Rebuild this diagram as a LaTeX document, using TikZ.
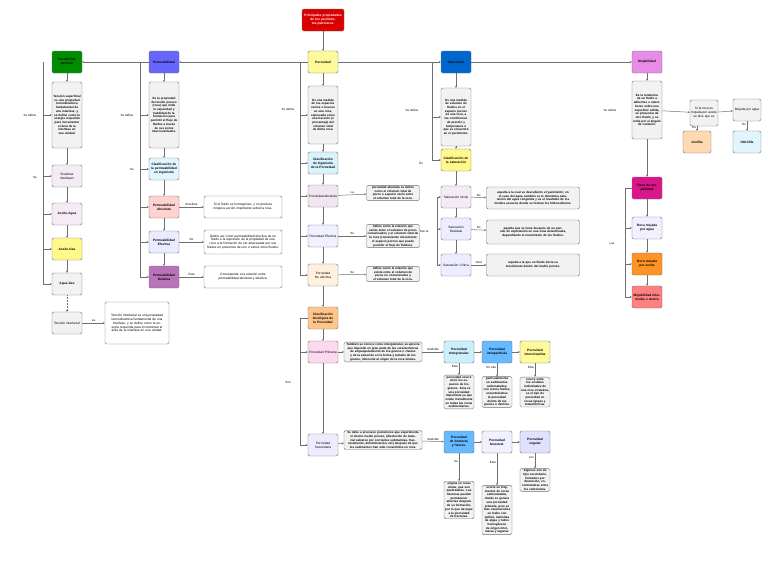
\documentclass[tikz,border=0pt]{standalone}
\usepackage{fontspec}
\setmainfont{Liberation Sans}
\usetikzlibrary{positioning,arrows.meta,calc}
\definecolor{edgegray}{HTML}{707070}
\begin{document}
\begin{tikzpicture}[x=1pt,y=-1pt,
  box/.style={draw=edgegray, rounded corners=1.5pt, align=center, inner sep=1pt,
    font=\fontsize{3.2}{3.9}\selectfont, fill=white},
  txt/.style={box, fill=gray!10, font=\fontsize{3}{3.7}\selectfont\bfseries},
  head/.style={box, font=\fontsize{3.2}{3.9}\selectfont\bfseries, minimum height=22pt},
  w/.style={text width=#1pt},
  lbl/.style={font=\fontsize{3}{3.6}\selectfont, inner sep=1pt},
  arr/.style={draw=edgegray, line width=0.5pt, -{Stealth[length=2pt,width=2pt]}},
  ln/.style={draw=edgegray, line width=0.5pt},
]
\useasboundingbox (0,0) rectangle (768,568);
% title and main properties
\node[head, w=40, fill=red!85!black, text=white] (title) at (323,20) {Principales propiedades de los yacimientos petroleros.};
\node[head, w=28, fill=green!55!black] (tens) at (67,62) {Tensión Superficial};
\node[head, w=28, fill=blue!60] (perm) at (164,62) {Permeabilidad};
\node[head, w=28, fill=yellow!40] (poro) at (323,62) {Porosidad};
\node[head, w=28, fill=blue!50!cyan!80!black] (satu) at (456,62) {Saturación};
\node[head, w=28, fill=violet!40!magenta!45] (moja) at (647,62) {Mojabilidad};
\draw[arr] (title) -- (poro);
\draw[arr] (poro) -- (perm);
\draw[arr] (perm) -- (tens);
\draw[arr] (poro) -- (satu);
\draw[arr] (satu) -- (moja);

% tension superficial
\node[txt, w=28, minimum height=66pt] (tdef) at (67,115) {Tensión superficial es una propiedad termodinámica fundamental de una interfase, y se define como la energía requerida para incrementar el área de la interfase en una unidad.};
\node[box, w=28, fill=violet!8, minimum height=22pt] (tsis) at (67,176) {Sistemas interfases};
\node[box, w=28, fill=violet!8, minimum height=22pt, font=\fontsize{3.2}{3.9}\selectfont\bfseries] (tag) at (67,214) {Aceite-Agua};
\node[box, w=28, fill=yellow!45, minimum height=22pt, font=\fontsize{3.2}{3.9}\selectfont\bfseries] (tgas) at (67,249) {Aceite-Gas};
\node[box, w=28, fill=gray!10, minimum height=22pt, font=\fontsize{3.2}{3.9}\selectfont\bfseries] (tagu) at (67,284) {Agua-Gas};
\node[box, w=28, fill=gray!10, minimum height=22pt] (tint) at (67,323) {Tensión interfacial};
\node[box, w=62, minimum height=42pt] (tintd) at (137,323) {Tensión interfacial es una propiedad termodinámica fundamental de una interfase, y se define como la energía requerida para incrementar el área de la interfase en una unidad.};
\draw[arr] (tens) -- (tdef);
\draw[arr] (tdef) -- (tsis);
\draw[arr] (tsis) -- (tag);
\draw[arr] (tag) -- (tgas);
\draw[arr] (tgas) -- (tagu);
\draw[arr, densely dotted] (tagu) -- (tint);
\draw[arr] (tint) -- node[lbl, above]{La} (tintd);
\coordinate (tb) at (43,62);
\draw[ln] (tb) -- (43,284);
\foreach \n in {tdef,tsis,tag,tgas,tagu} \draw[arr] (tb |- \n) -- (\n);
\node[lbl] at (30,115) {Se define};
\node[lbl] at (35,177) {Se};

% permeabilidad
\node[txt, w=28, minimum height=66pt] (pdef) at (164,115) {Es la propiedad del medio poroso (roca) que mide la capacidad y habilidad de la formación para permitir el flujo de fluidos a través de sus poros interconectados.};
\node[box, w=28, fill=cyan!12, minimum height=22pt, font=\fontsize{3.2}{3.9}\selectfont\bfseries] (pcla) at (164,169) {Clasificación de la permeabilidad en ingeniería};
\node[head, w=28, fill=red!18] (pabs) at (164,207) {Permeabilidad Absoluta};
\node[head, w=28, fill=blue!8] (pefe) at (164,242) {Permeabilidad Efectiva};
\node[head, w=28, fill=violet!55] (prel) at (164,277) {Permeabilidad Relativa};
\node[box, w=76, minimum height=22pt] (pabsd) at (243,207) {Si el fluido es homogéneo, y no produce ninguna acción importante sobre la roca.};
\node[box, w=76, minimum height=24pt] (pefed) at (243,242) {Define así como permeabilidad efectiva de un fluido a la expresión de la propiedad de una roca a la formación de ser atravesada por sus fluidos en presencia de uno o varios otros fluidos.};
\node[box, w=76, minimum height=22pt] (preld) at (243,277) {Corresponde a la relación entre permeabilidad absoluta y efectiva.};
\draw[arr] (perm) -- (pdef);
\draw[arr] (pdef) -- (pcla);
\draw[arr] (pcla) -- (pabs);
\draw[arr] (pabs) -- (pefe);
\draw[arr] (pefe) -- (prel);
\draw[arr] (pabs) -- node[lbl, above]{Se\\refiere} (pabsd);
\draw[arr] (pefe) -- node[lbl, above]{Se} (pefed);
\draw[arr] (prel) -- node[lbl, above]{Esta} (preld);
\coordinate (pb) at (140,62);
\draw[ln] (pb) -- (140,277);
\foreach \n in {pdef,pcla,pabs,pefe,prel} \draw[arr] (pb |- \n) -- (\n);
\node[lbl] at (127,115) {Se define};
\node[lbl] at (132,169) {Se};

% porosidad
\node[txt, w=28, minimum height=58pt] (odef) at (323,115) {Es una medida de los espacios vacíos o huecos en una roca, expresada como una fracción (o porcentaje) del volumen total de dicha roca.};
\node[box, w=28, fill=cyan!15, minimum height=22pt, font=\fontsize{3.2}{3.9}\selectfont\bfseries] (ocla) at (323,163) {Clasificación de Ingeniería de la Porosidad};
\node[box, w=28, fill=violet!10, minimum height=22pt] (oabs) at (323,196) {Porosidad absoluta};
\node[box, w=28, fill=blue!6, minimum height=22pt] (oefe) at (323,236) {Porosidad Efectiva};
\node[box, w=28, fill=orange!12, minimum height=22pt] (onef) at (323,275) {Porosidad No efectiva};
\node[txt, w=51] (oabsd) at (393,193) {porosidad absoluta se define como el volumen total de poros o espacio vacío entre el volumen total de la roca.};
\node[txt, w=51] (oefed) at (393,236) {define como la relación que existe entre el volumen de poros comunicados y el volumen total de la roca (conteniendo únicamente el espacio poroso que puede permitir el flujo de fluidos).};
\node[txt, w=51] (onefd) at (393,274) {define como la relación que existe entre el volumen de poros no comunicados y el volumen total de la roca.};
\node[box, w=28, fill=orange!45, minimum height=22pt, font=\fontsize{3.2}{3.9}\selectfont\bfseries] (ogeo) at (323,318) {Clasificación Geológica de la Porosidad};
\node[box, w=28, fill=magenta!15, minimum height=22pt] (opri) at (323,352) {Porosidad Primaria};
\node[box, w=28, fill=blue!7, minimum height=22pt] (osec) at (323,445) {Porosidad Secundaria};
\draw[arr] (poro) -- (odef);
\draw[arr] (odef) -- (ocla);
\draw[arr] (ocla) -- (oabs);
\draw[arr] (oabs) -- (oefe);
\draw[arr] (oefe) -- (onef);
\draw[arr] (onef) -- (ogeo);
\draw[arr] (ogeo) -- (opri);
\draw[arr] (opri) -- (osec);
\draw[arr] (oabs) -- node[lbl, above]{La} (oabsd);
\draw[arr] (oefe) -- node[lbl, above]{Se} (oefed);
\draw[arr] (onef) -- node[lbl, above]{Se} (onefd);
\coordinate (ob) at (300,62);
\draw[ln] (ob) -- (300,275);
\foreach \n in {odef,ocla,oabs,oefe,onef} \draw[arr] (ob |- \n) -- (\n);
\node[lbl] at (288,109) {Se define};
\coordinate (gb) at (300,318);
\draw[ln] (ogeo.west) -- (gb) -- (300,445);
\foreach \n in {opri,osec} \draw[arr] (gb |- \n) -- (\n);
\node[lbl] at (288,382) {Son};

% porosidad primaria y secundaria
\node[txt, w=76] (oprid) at (383,352) {También se conoce como intergranular, se aprecia que depende en gran parte de las características de empaquetamiento de los granos o clastos y de la variación en la forma y tamaño de los granos, inherente al origen de la roca misma.};
\node[txt, w=76] (osecd) at (383,440) {Se debe a procesos posteriores que experimenta el mismo medio poroso, (disolución de material calcáreo por corrientes submarinas, fracturamiento, dolomitización, etc) después de que los sedimentos han sido convertidos en roca.};
\node[head, w=28, fill=cyan!20] (oint) at (459,352) {Porosidad Intergranular.};
\node[head, w=28, fill=blue!45!cyan!60] (oipa) at (497,352) {Porosidad intrapartícula};
\node[head, w=28, fill=yellow!40] (oicr) at (535,352) {Porosidad intercristalina};
\node[head, w=28, fill=blue!45!cyan!60] (ofra) at (459,442) {Porosidad de fracturas y fisuras.};
\node[head, w=28, fill=blue!6] (ofen) at (497,442) {Porosidad fenestral.};
\node[head, w=28, fill=blue!12] (ovug) at (535,442) {Porosidad vugular};
\node[txt, w=28] (ointd) at (459,392) {porosidad ocurre entre los espacios de los granos. Esta es una porosidad importante ya que existe inicialmente en todas las rocas sedimentarias.};
\node[txt, w=28] (oipad) at (497,392) {particularmente en sedimentos carbonatados, con restos fósiles, encontrándose la porosidad dentro de los granos o detritos.};
\node[txt, w=28] (oicrd) at (535,392) {ocurre entre los cristales individuales de una roca cristalina, es el tipo de porosidad en rocas ígneas y metamórficas.};
\node[txt, w=28] (ofrad) at (459,500) {origina en rocas duras, que son quebradizas. Las fracturas pueden permanecer abiertas después de su formación, por lo que da lugar a la porosidad de fracturas.};
\node[txt, w=28] (ofend) at (497,510) {ocurre en fragmentos de rocas carbonatadas, donde se genera una porosidad primaria, pero se más característica en lodos con pellets, laminitas de algas y lodos homogéneos de origen intermarea y lagunar.};
\node[txt, w=28] (ovugd) at (535,480) {Algunos son de tipo secundario, formados por disolución, encontrándose entre los carbonatos.};
\draw[arr] (opri) -- (oprid);
\draw[arr] (osec) -- (osecd);
\draw[arr] (oprid) -- node[lbl, above]{Se\\divide} (oint);
\draw[arr] (osecd) -- node[lbl, above]{Se\\divide} (ofra);
\draw[arr] (oint) -- (oipa);
\draw[arr] (oipa) -- (oicr);
\draw[arr] (ofra) -- (ofen);
\draw[arr] (ofen) -- (ovug);
\draw[arr] (oint) -- node[lbl, left, pos=0.3]{Esta} (ointd);
\draw[arr] (oipa) -- node[lbl, left, pos=0.3]{En ella} (oipad);
\draw[arr] (oicr) -- node[lbl, left, pos=0.3]{Esta} (oicrd);
\draw[arr] (ofra) -- node[lbl, left, pos=0.3]{Se} (ofrad);
\draw[arr] (ofen) -- node[lbl, left, pos=0.3]{Esta} (ofend);
\draw[arr] (ovug) -- node[lbl, left, pos=0.3]{Los} (ovugd);

% saturacion
\node[txt, w=28, minimum height=58pt] (sdef) at (456,117) {Es una medida de volumen de fluidos en el espacio poroso de una roca, a las condiciones de presión y temperatura a que se encuentra en el yacimiento.};
\node[box, w=28, fill=yellow!45, minimum height=22pt, font=\fontsize{3.2}{3.9}\selectfont\bfseries] (scla) at (456,160) {Clasificación de la saturación};
\node[box, w=28, fill=violet!8, minimum height=22pt] (sini) at (456,197) {Saturación inicial};
\node[box, w=28, fill=blue!7, minimum height=22pt] (sres) at (456,229) {Saturación Residual};
\node[box, w=28, fill=blue!7, minimum height=22pt] (scri) at (456,265) {Saturación Crítica};
\node[txt, w=91, minimum height=22pt] (sinid) at (533,198) {aquella a la cual es descubierto el yacimiento; en el caso del agua, también se le denomina saturación del agua congénita y es el resultado de los medios acuosos donde se forman los hidrocarburos.};
\node[txt, w=91, minimum height=24pt] (sresd) at (533,232) {aquella que se tiene después de un periodo de explotación en una zona determinada, dependiendo el movimiento de los fluidos.};
\node[txt, w=91, minimum height=22pt] (scrid) at (533,265) {aquella a la que un fluido inicia su movimiento dentro del medio poroso.};
\draw[arr] (satu) -- (sdef);
\draw[arr] (sdef) -- (scla);
\draw[arr] (scla) -- (sini);
\draw[arr] (sini) -- (sres);
\draw[arr] (sres) -- (scri);
\draw[arr] (sini) -- node[lbl, above]{Es} (sinid);
\draw[arr] (sres) -- node[lbl, above]{Es} (sresd);
\draw[arr] (scri) -- node[lbl, above]{Será} (scrid);
\coordinate (sb) at (432,62);
\draw[ln] (sb) -- (432,160);
\foreach \n in {sdef,scla} \draw[arr] (sb |- \n) -- (\n);
\draw[ln] (437,197) -- (437,265);
\foreach \n in {sini,sres,scri} \draw[arr] (437,0 |- \n) -- (\n);
\node[lbl] at (412,110) {Se define};
\node[lbl] at (421,163) {Es};
\node[lbl] at (424,231) {Son la};

% mojabilidad
\node[txt, w=28, minimum height=58pt] (mdef) at (647,110) {Es la tendencia de un fluido a adherirse o adsorberse sobre una superficie sólida, en presencia de otro fluido, y se mide por el ángulo de contacto.};
\node[box, w=26, fill=gray!10, minimum height=26pt] (mroc) at (704,113) {Si la roca es mojada por aceite se dice que es};
\node[box, w=26, fill=gray!10, minimum height=22pt] (mmag) at (747,110) {Mojada por agua};
\node[box, w=26, fill=orange!30, minimum height=22pt, font=\fontsize{3.2}{3.9}\selectfont\bfseries] (mole) at (697,142) {oleófila};
\node[box, w=26, fill=cyan!12, minimum height=22pt, font=\fontsize{3.2}{3.9}\selectfont\bfseries] (mhid) at (747,142) {Hidrófila};
\node[head, w=28, fill=magenta!80!violet] (mtip) at (647,188) {Tipos de mojabilidad};
\node[head, w=28, fill=blue!6] (mrag) at (647,228) {Roca mojada por agua};
\node[head, w=28, fill=orange!85] (mrac) at (647,264) {Roca mojada por aceite};
\node[head, w=28, fill=red!50] (mint) at (647,297) {Mojabilidad intermedia o neutra};
\draw[arr] (moja) -- (mdef);
\draw[arr] (mdef) -- (mtip);
\draw[arr] (mdef) -- (mroc);
\draw[arr] (mroc) -- (mmag);
\draw[arr] (mroc.south -| mole) -- node[lbl, left, pos=0.3]{Es} (mole);
\draw[arr] (mmag) -- node[lbl, left, pos=0.3]{Es} (mhid);
\draw[arr] (mtip) -- (mrag);
\draw[arr] (mrag) -- (mrac);
\draw[arr] (mrac) -- (mint);
\coordinate (mb) at (625,188);
\draw[ln] (mtip.west) -- (mb) -- (625,297);
\foreach \n in {mrag,mrac,mint} \draw[arr] (mb |- \n) -- (\n);
\node[lbl] at (610,110) {Se define};
\node[lbl] at (612,243) {Los};
\end{tikzpicture}
\end{document}
